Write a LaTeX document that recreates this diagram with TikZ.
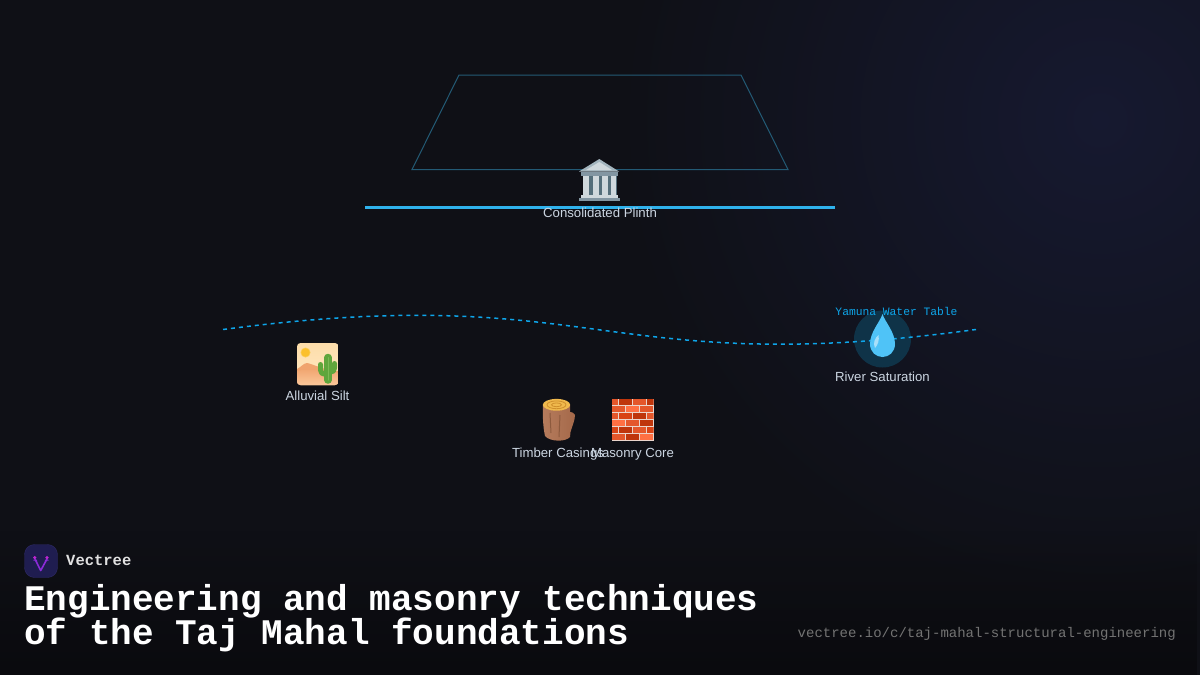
\documentclass[tikz,border=0pt]{standalone}
\usepackage{fontspec}
\usepackage{xcolor}
\setmainfont{Liberation Sans}
\setmonofont{Liberation Mono}
\usetikzlibrary{fadings}
\definecolor{cBase}{HTML}{0F1016}
\definecolor{cGlow}{HTML}{161930}
\definecolor{cDeep}{HTML}{09090C}
\definecolor{cSky}{HTML}{0EA5E9}
\definecolor{cLine}{HTML}{2FB2EC}
\definecolor{cFrame}{HTML}{235A75}
\definecolor{cHalo}{HTML}{0F3348}
\definecolor{cLabel}{HTML}{CBD5E1}
\definecolor{cBlueGrey}{HTML}{A3B5BE}
\definecolor{cPale}{HTML}{CFD8DC}
\definecolor{cSlate}{HTML}{8296A2}
\definecolor{cDim}{HTML}{546E7A}
\definecolor{cSandA}{HTML}{FDDDAA}
\definecolor{cSandB}{HTML}{FFE9C4}
\definecolor{cSandC}{HTML}{FBC79A}
\definecolor{cSun}{HTML}{FBC02D}
\definecolor{cDune}{HTML}{F0A46E}
\definecolor{cCactus}{HTML}{5FA63C}
\definecolor{cCactusDk}{HTML}{7CB955}
\definecolor{cBarkA}{HTML}{B57B5C}
\definecolor{cBarkB}{HTML}{A5694A}
\definecolor{cBarkDk}{HTML}{8D5A3E}
\definecolor{cRingA}{HTML}{F0B94D}
\definecolor{cRingB}{HTML}{CF8F2C}
\definecolor{cMortar}{HTML}{EAD5CC}
\definecolor{cBrA}{HTML}{E4572B}
\definecolor{cBrB}{HTML}{BF360C}
\definecolor{cBrC}{HTML}{FF7043}
\definecolor{cBrD}{HTML}{D84315}
\definecolor{cDrop}{HTML}{4FC3F7}
\definecolor{cDropHi}{HTML}{A8E0FA}
\definecolor{cBadge}{HTML}{1F1D50}
\definecolor{cBadgeEdge}{HTML}{2E2A66}
\definecolor{cMark}{HTML}{8B2BD9}
\definecolor{cMarkDot}{HTML}{C026D3}
\tikzset{
  x=1pt,y=-1pt,
  lab/.style={inner sep=0pt,anchor=base,text=cLabel,font=\fontsize{13.2}{15}\selectfont},
  temple/.pic={
    \fill[cBlueGrey] (20.3,0) -- (40,12.5) -- (0,12.5) -- cycle;
    \fill[cPale] (20.3,3) -- (33,11) -- (7,11) -- cycle;
    \fill[cSlate] (1.5,12.5) rectangle (39,17);
    \fill[cDim] (4,17) rectangle (37.5,36);
    \foreach \cx in {4.3,13.7,22.7,31.5}{\fill[cPale] (\cx,17) rectangle (\cx+5.8,36);}
    \fill[cPale] (2,36) rectangle (39,38.5);
    \fill[cSlate] (0,38.5) rectangle (41,41.7);
  },
  desert/.pic={
    \begin{scope}
      \clip[rounded corners=3.5pt] (0,0) rectangle (41.5,42);
      \shade[top color=cSandA,bottom color=cSandB] (0,0) rectangle (41.5,42);
      \fill[cSun!80!white] (8.5,9.5) circle (5);
      \fill[cSun] (8.5,9.5) circle (4.2);
      \fill[cDune] (0,26) .. controls (4,24) and (7,20) .. (10,20) .. controls (16,21) and (26,27) .. (41.5,28) -- (41.5,42) -- (0,42) -- cycle;
      \shade[top color=cDune,bottom color=cSandC] (0,28) .. controls (12,25) and (24,28) .. (41.5,30) -- (41.5,42) -- (0,42) -- cycle;
    \end{scope}
    \draw[cCactus,line width=5pt,line cap=round,line join=round] (23.5,21.5) -- (23.5,27) .. controls (23.5,30) and (25,31) .. (29,31);
    \draw[cCactus,line width=5pt,line cap=round,line join=round] (37.5,20.5) -- (37.5,25) .. controls (37.5,28) and (36,29) .. (33,29);
    \draw[cCactus,line width=7.5pt,line cap=round] (31,14.5) -- (31,37);
    \draw[cCactusDk,line width=1pt,line cap=round] (31.6,14.5) -- (31.6,37);
  },
  logpic/.pic={
    \shade[left color=cBarkA,right color=cBarkB] (1,6) .. controls (0.5,16) and (1,28) .. (3,37) .. controls (8,43) and (24,43) .. (28,38) .. controls (28,36) and (28,35) .. (28.5,33) .. controls (30,28) and (33,21) .. (33,16) .. controls (31,13) and (29,13) .. (28,13) -- (28,6) -- cycle;
    \draw[cBarkDk,line width=1pt] (8,14) -- (9,34);
    \draw[cBarkDk,line width=1pt] (18,16) -- (17,38);
    \fill[cRingA] (14.5,5.8) ellipse (13.7 and 5.9);
    \draw[cRingB,line width=.8pt] (14.5,5.8) ellipse (9.5 and 3.9);
    \draw[cRingB,line width=.8pt] (14.5,5.8) ellipse (5 and 1.9);
  },
  brickpic/.pic={
    \fill[cMortar] (0,0) rectangle (41.5,42);
    \begin{scope}
      \clip (0,0) rectangle (41.5,42);
      \foreach \rowy/\off/\ca/\cb/\cc/\cd in {
        0/-7/cBrA/cBrB/cBrA/cBrB,
        7/-14/cBrB/cBrA/cBrC/cBrA,
        14/-7/cBrA/cBrD/cBrB/cBrA,
        21/-14/cBrA/cBrC/cBrA/cBrB,
        28/-7/cBrD/cBrB/cBrA/cBrD,
        35/-14/cBrA/cBrA/cBrB/cBrC}{
        \fill[\ca] (\off,\rowy) rectangle ++(13,6);
        \fill[\cb] (\off+14,\rowy) rectangle ++(13,6);
        \fill[\cc] (\off+28,\rowy) rectangle ++(13,6);
        \fill[\cd] (\off+42,\rowy) rectangle ++(13,6);
      }
    \end{scope}
  },
  droplet/.pic={
    \fill[cDrop] (12.5,0) .. controls (15,8) and (25,18) .. (25,30) .. controls (25,38) and (19,43) .. (12.5,43) .. controls (6,43) and (0,38) .. (0,30) .. controls (0,18) and (10,8) .. (12.5,0) -- cycle;
    \fill[cDropHi] (5,34) .. controls (2.5,29) and (5,24) .. (8.5,21) .. controls (9.5,26) and (8,31) .. (5,34) -- cycle;
  },
}
\begin{document}
\begin{tikzpicture}
  \useasboundingbox (0,0) rectangle (1200,675);
  % backdrop
  \fill[cBase] (0,0) rectangle (1200,675);
  \begin{scope}
    \clip (0,0) rectangle (1200,675);
    \shade[inner color=cGlow,outer color=cBase] (1100,120) circle (480);
    \fill[cDeep,opacity=.8,path fading=north] (0,530) rectangle (1200,675);
  \end{scope}
  % foundation frame and plinth
  \coordinate (frameA) at (459,75);
  \coordinate (frameB) at (741,75);
  \coordinate (frameC) at (788,169.5);
  \coordinate (frameD) at (412,169.5);
  \draw[cFrame,line width=1pt] (frameA) -- (frameB) -- (frameC) -- (frameD) -- cycle;
  \coordinate (plinthL) at (365,207);
  \coordinate (plinthR) at (835,207);
  \pic at (579,159) {temple};
  \draw[cLine,line width=3pt] (plinthL) -- (plinthR);
  \node[lab] (plinth) at (600,217) {Consolidated Plinth};
  % water table
  \node[circle,fill=cHalo,minimum size=57pt,inner sep=0pt] (halo) at (882.5,339) {};
  \coordinate (waveL) at (223,329.5);
  \coordinate (waveR) at (976,329.5);
  \draw[cSky,line width=1.5pt,dash pattern=on 4pt off 4pt] (waveL) .. controls (600,280) and (600,380) .. (waveR);
  \pic at (870,314) {droplet};
  \node[inner sep=0pt,anchor=base,text=cSky,font=\ttfamily\fontsize{11.3}{13}\selectfont] (table) at (896.5,315.5) {Yamuna Water Table};
  \node[lab] (river) at (882.5,381) {River Saturation};
  % ground layers
  \pic at (297,343) {desert};
  \node[lab] (silt) at (317.5,400) {Alluvial Silt};
  \pic at (542,399) {logpic};
  \node[lab] (timber) at (558,457) {Timber Casings};
  \pic at (612,399) {brickpic};
  \node[lab] (core) at (632.5,457) {Masonry Core};
  % brand and title
  \node[draw=cBadgeEdge,fill=cBadge,rounded corners=10pt,minimum size=33pt,inner sep=0pt] (badge) at (41,561) {};
  \draw[cMark,line width=1.6pt,line join=round] (35,559) -- (40.7,570.5) -- (47,559);
  \draw[cMark,line width=1pt] (33.5,560) -- (37,560.5) (48.5,560) -- (45,560.5);
  \fill[cMarkDot] (34.8,557.6) circle (1.8) (47,557.6) circle (1.8);
  \node[inner sep=0pt,anchor=base west,text=white!88!black,font=\ttfamily\bfseries\fontsize{15.5}{18}\selectfont] (brand) at (66,565) {Vectree};
  \node[inner sep=0pt,anchor=base west,align=left,text=white,font=\ttfamily\bfseries\fontsize{36}{33}\selectfont] (title) at (24,644) {Engineering and masonry techniques\\[-2pt]of the Taj Mahal foundations};
  \node[inner sep=0pt,anchor=base east,text=white!45!black,font=\ttfamily\fontsize{14}{16}\selectfont] (link) at (1176,637) {vectree.io/c/taj-mahal-structural-engineering};
\end{tikzpicture}
\end{document}
